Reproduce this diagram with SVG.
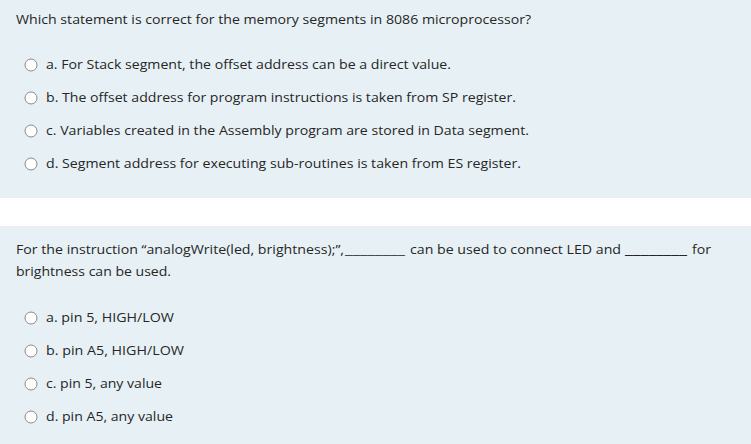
<svg xmlns="http://www.w3.org/2000/svg" width="751" height="444" viewBox="0 0 751 444">
<style>
text{font-family:"Open Sans","Noto Sans","DejaVu Sans",sans-serif;font-size:13px;fill:#262626}
.r{fill:#fff;stroke:#8a8a8a;stroke-width:1}
</style>
<rect width="751" height="444" fill="#fff"/>
<rect x="0" y="0" width="751" height="198" fill="#e7f1f5"/>
<rect x="0" y="226" width="751" height="218" fill="#e7f1f5"/>
<g id="q1">
<text x="16" y="24" textLength="515" lengthAdjust="spacingAndGlyphs">Which statement is correct for the memory segments in 8086 microprocessor?</text>
<circle class="r" cx="31" cy="65" r="6"/><text x="46" y="69" textLength="405" lengthAdjust="spacingAndGlyphs">a. For Stack segment, the offset address can be a direct value.</text>
<circle class="r" cx="31" cy="98" r="6"/><text x="46" y="102" textLength="470" lengthAdjust="spacingAndGlyphs">b. The offset address for program instructions is taken from SP register.</text>
<circle class="r" cx="31" cy="131" r="6"/><text x="46" y="135" textLength="483" lengthAdjust="spacingAndGlyphs">c. Variables created in the Assembly program are stored in Data segment.</text>
<circle class="r" cx="31" cy="164" r="6"/><text x="46" y="168" textLength="475" lengthAdjust="spacingAndGlyphs">d. Segment address for executing sub-routines is taken from ES register.</text>
</g>
<g id="q2">
<text x="16" y="254" textLength="328" lengthAdjust="spacingAndGlyphs">For the instruction “analogWrite(led, brightness);”,</text>
<text x="345" y="254" textLength="60" lengthAdjust="spacingAndGlyphs">________</text>
<text x="410" y="254" textLength="211" lengthAdjust="spacingAndGlyphs">can be used to connect LED and</text>
<text x="625" y="254" textLength="62" lengthAdjust="spacingAndGlyphs">________</text>
<text x="692" y="254" textLength="19" lengthAdjust="spacingAndGlyphs">for</text>
<text x="16" y="276" textLength="155" lengthAdjust="spacingAndGlyphs">brightness can be used.</text>
<circle class="r" cx="31" cy="318" r="6"/><text x="46" y="322" textLength="128" lengthAdjust="spacingAndGlyphs">a. pin 5, HIGH/LOW</text>
<circle class="r" cx="31" cy="351" r="6"/><text x="46" y="355" textLength="138" lengthAdjust="spacingAndGlyphs">b. pin A5, HIGH/LOW</text>
<circle class="r" cx="31" cy="384" r="6"/><text x="46" y="388" textLength="116" lengthAdjust="spacingAndGlyphs">c. pin 5, any value</text>
<circle class="r" cx="31" cy="417" r="6"/><text x="46" y="421" textLength="127" lengthAdjust="spacingAndGlyphs">d. pin A5, any value</text>
</g>
</svg>
